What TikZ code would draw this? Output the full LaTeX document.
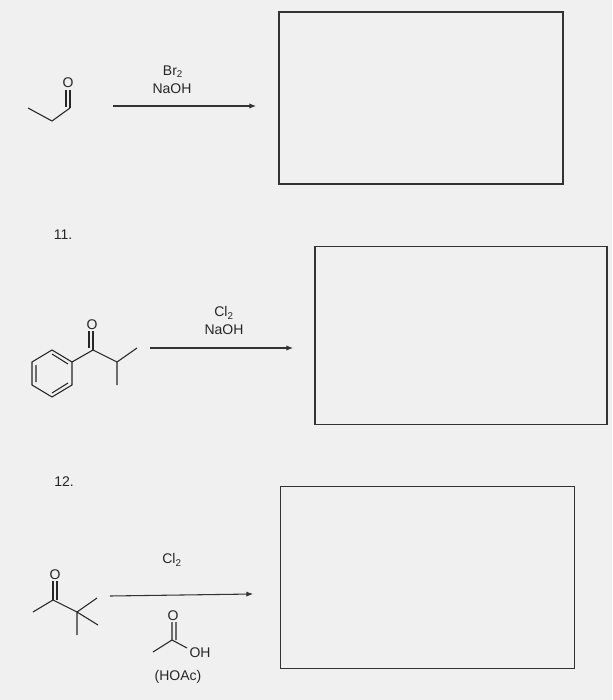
\documentclass[tikz,border=0pt]{standalone}
\usepackage{fontspec}
\setmainfont{Liberation Sans}
\usetikzlibrary{arrows.meta}
\begin{document}
\begin{tikzpicture}[x=0.75pt,y=-0.75pt,
  bond/.style={line width=0.8pt,black!85},
  lbl/.style={font=\fontsize{10.5pt}{11pt}\selectfont,inner sep=0pt,text=black!85},
  box/.style={draw=black!80,line width=0.9pt},
  rxn/.style={line width=0.8pt,-{Latex[length=5pt,width=4pt]},black!80}]
\fill[gray!12] (0,0) rectangle (612,700);
\useasboundingbox (0,0) rectangle (612,700);
% molecule 1
\draw[bond] (28,108)--(52,121)--(70,108);
\draw[bond] (70,108)--(70,90) (66,107)--(66,90);
\node[lbl] (o1) at (68,83) {O};
\coordinate (a1s) at (113,106); \coordinate (a1e) at (256,106);
\draw[rxn] (a1s)--(a1e);
\node[lbl] (r1a) at (173,72) {Br\textsubscript{2}};
\node[lbl] (r1b) at (172,89) {NaOH};
\node[box,minimum width=213pt,minimum height=129pt,inner sep=0pt] (b1) at (421,98) {};
% label 11
\node[lbl] (n11) at (63,235) {11.};
% molecule 2
\draw[bond] (32,362)--(52,350)--(72,362)--(72,385)--(52,397)--(32,385)--cycle;
\draw[bond] (36,365)--(36,382) (52,354)--(68,364) (52,393)--(68,383);
\draw[bond] (72,362)--(93,350)--(117,362)--(137,348) (117,362)--(117,385);
\draw[bond] (93,350)--(93,331) (89,348)--(89,331);
\node[lbl] (o2) at (92,325) {O};
\coordinate (a2s) at (150,348); \coordinate (a2e) at (293,348);
\draw[rxn] (a2s)--(a2e);
\node[lbl] (r2a) at (224,313) {Cl\textsubscript{2}};
\node[lbl] (r2b) at (224,330) {NaOH};
\node[box,minimum width=219pt,minimum height=134pt,inner sep=0pt] (b2) at (461,335.5) {};
% label 12
\node[lbl] (n12) at (64,482) {12.};
% molecule 3
\draw[bond] (33,612)--(53,600)--(77,612)--(97,598) (77,612)--(98,625) (77,612)--(77,635);
\draw[bond] (53,600)--(53,581) (57,600)--(57,581);
\node[lbl] (o3) at (55,575) {O};
\coordinate (a3s) at (110,596); \coordinate (a3e) at (253,594);
\draw[rxn] (a3s)--(a3e);
\node[lbl] (r3a) at (172,560) {Cl\textsubscript{2}};
% acetic acid
\draw[bond] (153,652)--(172,640)--(187,648) (172,640)--(172,622) (176,640)--(176,622);
\node[lbl] (o4) at (173,616) {O};
\node[lbl] (oh) at (200,653) {OH};
\node[lbl] (hoac) at (178,677) {(HOAc)};
\node[box,minimum width=221pt,minimum height=136pt,inner sep=0pt] (b3) at (427.5,577.5) {};
\end{tikzpicture}
\end{document}
